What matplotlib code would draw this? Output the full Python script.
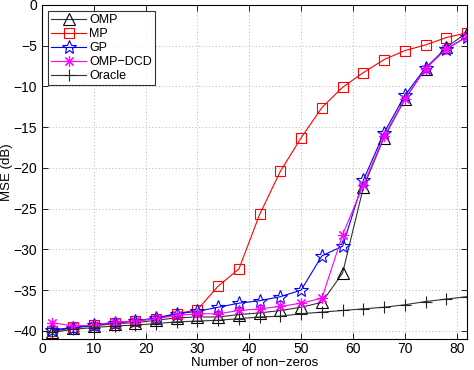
import matplotlib
matplotlib.use("Agg")
import matplotlib.pyplot as plt

plt.rcParams['font.family'] = ['Liberation Sans', 'DejaVu Sans']

k = [2, 6, 10, 14, 18, 22, 26, 30, 34, 38, 42, 46, 50, 54, 58, 62, 66, 70, 74, 78, 82]
omp = [-40.1, -39.6, -39.4, -39.1, -39.0, -38.7, -38.4, -38.3, -38.3, -38.0, -37.8, -37.5,
       -37.1, -36.5, -32.9, -22.4, -16.3, -11.6, -7.8, -5.2, -3.4]
mp = [-40.0, -39.5, -39.3, -39.0, -38.8, -38.5, -37.9, -37.4, -34.5, -32.4, -25.7, -20.4,
      -16.3, -12.6, -10.1, -8.3, -6.7, -5.6, -4.9, -4.0, -3.4]
gp = [-39.9, -39.6, -39.3, -39.0, -38.8, -38.4, -37.9, -37.6, -37.1, -36.6, -36.3, -35.8,
      -35.0, -30.8, -29.6, -21.5, -15.7, -11.1, -7.7, -5.4, -3.9]
omp_dcd = [-39.0, -39.4, -39.3, -38.9, -38.8, -38.5, -38.1, -37.9, -37.9, -37.5, -37.3, -37.0,
           -36.6, -36.0, -28.2, -22.1, -16.1, -11.5, -7.8, -5.4, -3.9]
oracle = [-40.2, -39.8, -39.6, -39.4, -39.3, -39.1, -38.9, -38.8, -38.7, -38.5, -38.3, -38.2,
          -37.9, -37.7, -37.5, -37.3, -37.1, -36.8, -36.4, -36.1, -35.8]

xticks = [0, 10, 20, 30, 40, 50, 60, 70, 80]
yticks = [-40, -35, -30, -25, -20, -15, -10, -5, 0]

fig = plt.figure(figsize=(4.74, 3.70), dpi=100)
ax = fig.add_axes([42/474, 31/370, 425/474, 334/370])

lw = 0.8
ax.plot(k, omp, color='#333333', lw=lw, marker='^', ms=8.5, mfc='none', mec='black', mew=0.8, label='OMP')
ax.plot(k, mp, color='red', lw=lw, marker='s', ms=7, mfc='none', mec='red', mew=0.8, label='MP')
ax.plot(k, gp, color='blue', lw=lw, marker='*', ms=10, mfc='none', mec='blue', mew=0.8, label='GP')
ax.plot(k, omp_dcd, color='magenta', lw=lw, marker=(8, 2, 0), ms=8, mfc='none', mec='magenta', mew=0.8, label='OMP\u2212DCD')
ax.plot(k, oracle, color='#333333', lw=lw, marker='+', ms=9, mec='#222222', mew=0.8, label='Oracle')

ax.set_xlim(0, 82)
ax.set_ylim(-41, 0)
ax.set_xticks(xticks)
ax.set_yticks(yticks)
ax.set_yticklabels([str(v).replace('-', '\u2212') for v in yticks])
ax.tick_params(direction='in', top=True, right=True, labelsize=10, length=4, width=0.6)
ax.tick_params(axis='x', pad=2)
ax.grid(True, linestyle=(0, (1, 3)), color='#999999', linewidth=0.6)
for s in ax.spines.values():
    s.set_linewidth(0.8)

ax.set_xlabel('Number of non\u2212zeros', fontsize=9.5)
ax.xaxis.set_label_coords(0.5, -0.053, transform=ax.transAxes)
ax.set_ylabel('MSE (dB)', fontsize=9.5)
ax.yaxis.set_label_coords(-0.069, 0.5, transform=ax.transAxes)

leg = ax.legend(loc='upper left', fontsize=9, frameon=True, fancybox=False,
                borderpad=0.25, labelspacing=0.15, handlelength=2.8, handletextpad=0.2,
                borderaxespad=0.5)
leg.get_frame().set_edgecolor('black')
leg.get_frame().set_linewidth(0.8)

fig.savefig('out.png', dpi=100)
